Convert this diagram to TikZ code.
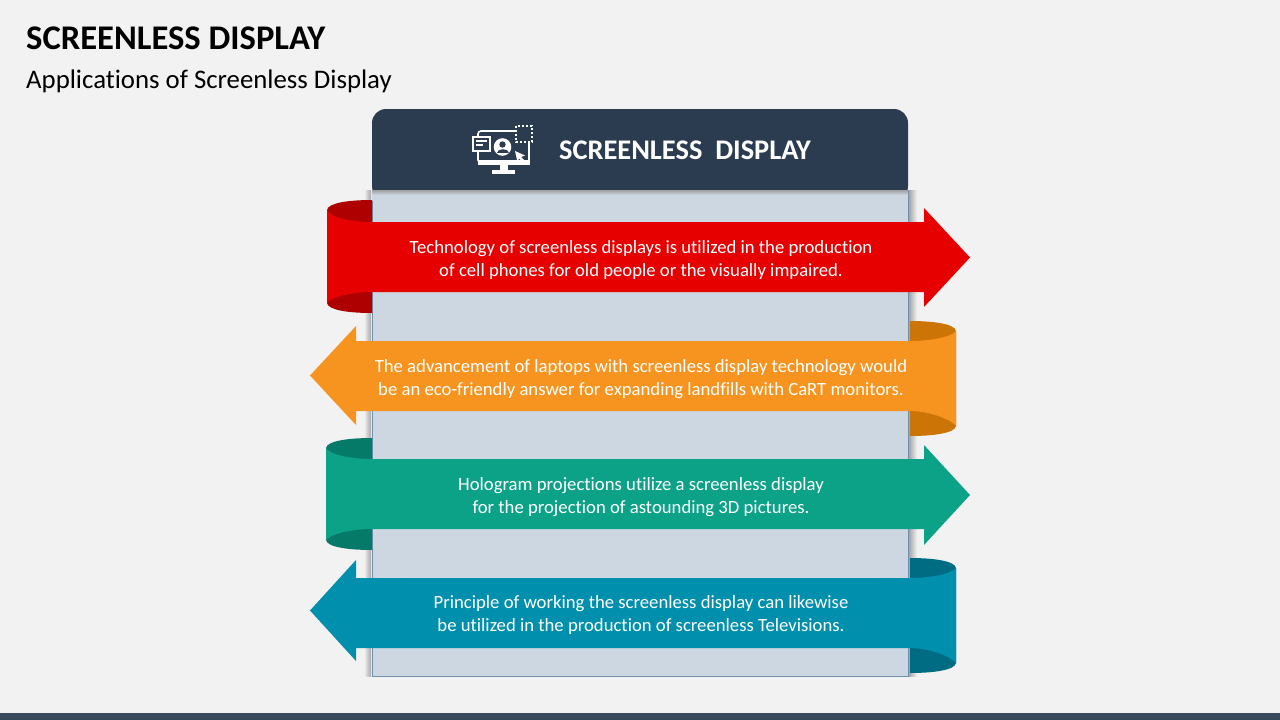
\documentclass[tikz,border=0pt]{standalone}
\usepackage{fontspec}
\setmainfont[Ligatures=NoCommon]{Carlito}
\usetikzlibrary{calc}

\tikzset{
    ribbonText/.style={text=white, align=center, font=\fontsize{18.7}{23}\selectfont, inner sep=0pt},
    titleText/.style={text=black, anchor=west, inner sep=0pt},
    iconLine/.style={draw=white, line width=1.6pt},
}

\begin{document}
\begin{tikzpicture}[x=1pt, y=-1pt]
    % Define colors
    \definecolor{pageColour}{HTML}{F2F2F2}
    \definecolor{headColour}{HTML}{2C3C50}
    \definecolor{panelColour}{HTML}{CDD7E2}
    \definecolor{panelEdge}{HTML}{6F8FAF}
    \definecolor{footColour}{HTML}{3A4A5E}
    \definecolor{redFront}{HTML}{E60000}
    \definecolor{redBack}{HTML}{AE0000}
    \definecolor{orangeFront}{HTML}{F79420}
    \definecolor{orangeBack}{HTML}{CC7405}
    \definecolor{tealFront}{HTML}{0BA288}
    \definecolor{tealBack}{HTML}{067A68}
    \definecolor{blueFront}{HTML}{0090AE}
    \definecolor{blueBack}{HTML}{006C84}

    % Page and footer
    \fill[pageColour] (0,0) rectangle (1280,720);
    \useasboundingbox (0,0) rectangle (1280,720);
    \fill[footColour] (0,713) rectangle (1280,720);

    % Titles
    \node[titleText, font=\fontsize{34.6}{34.6}\selectfont\bfseries] (title) at (26,38) {SCREENLESS DISPLAY};
    \node[titleText, font=\fontsize{26.8}{26.8}\selectfont] (subtitle) at (26,81) {Applications of Screenless Display};

    % Side shadows of the panel
    \shade[left color=pageColour, right color=gray!70] (364,190) rectangle (371,676);
    \shade[left color=gray!70, right color=pageColour] (909,190) rectangle (917,676);

    % Panel and header
    \filldraw[fill=panelColour, draw=panelEdge, line width=0.8pt] (372,190) rectangle (908,676);
    \fill[headColour, rounded corners=14pt] (372,200) -- (372,109) -- (908,109) -- (908,200) -- cycle;
    \fill[panelColour] (372,190.5) rectangle (908,201);
    \shade[top color=gray!75, bottom color=panelColour] (372,190) rectangle (908,195);
    \node[text=white, inner sep=0pt, font=\fontsize{28.4}{28.4}\selectfont\bfseries] (header) at (685,150.5) {SCREENLESS~ DISPLAY};

    % Draw the icon
    \draw[iconLine, rounded corners=3pt] (516,131) -- (478,131) -- (478,163) -- (529,163) -- (529,142);
    \fill[white] (478,160) rectangle (530,165);
    \fill[white] (500,165) rectangle (508,171);
    \fill[white] (492,170) rectangle (515,173.5);
    \draw[white, line width=2pt, dotted] (516,126) rectangle (532,142);
    \filldraw[fill=headColour, draw=white, line width=1.6pt] (473,137) rectangle (490,151);
    \draw[white, line width=1.3pt] (476,141) -- (487,141) (476,145) -- (483,145);
    \fill[white] (502.5,147) circle (8.8);
    \fill[headColour] (502.5,144.5) circle (3.2);
    \fill[headColour] (496.5,153) .. controls (496.5,147.5) and (508.5,147.5) .. (508.5,153) -- cycle;
    \fill[white] (515,151) -- (525,155.5) -- (521,157) -- (525,161) -- (523,162.5) -- (519,158.5) -- (517.5,162) -- cycle;

    % Draw the ribbons, xscale flips the left pointing ones
    \foreach \dir/\bodyTop/\curlTop/\curlLow/\curlX/\curlIn/\headTop/\headLow/\front/\back in {
        1/222/200/313/-313/-268/208/307/redFront/redBack,
        -1/341/321/436/-316/-270/326/425/orangeFront/orangeBack,
        1/459/438/550/-314/-268/445/545/tealFront/tealBack,
        -1/578/558/673/-316/-270/560/661/blueFront/blueBack}
    {
        \begin{scope}[xshift=640pt, xscale=\dir]
            % Back of the curl
            \fill[\back] (\curlIn,\curlTop) .. controls (\curlIn-24,\curlTop) and (\curlX+1,\curlTop+3) .. (\curlX,\curlTop+10)
                -- (\curlX,\curlLow-10) .. controls (\curlX+1,\curlLow-3) and (\curlIn-24,\curlLow) .. (\curlIn,\curlLow) -- cycle;
            % Front of the ribbon with its arrow head
            \fill[\front] (\curlX,\curlTop+10) .. controls (\curlX+4,\bodyTop-4) and (\curlIn-20,\bodyTop) .. (\curlIn,\bodyTop)
                -- (284,\bodyTop) -- (284,\headTop) -- (330,{(\headTop+\headLow)/2}) -- (284,\headLow)
                -- (284,\bodyTop+70) -- (\curlIn,\bodyTop+70)
                .. controls (\curlIn-20,\bodyTop+70) and (\curlX+4,\curlLow-16) .. (\curlX,\curlLow-10) -- cycle;
        \end{scope}
    }

    % Label the ribbons
    \node[ribbonText] (textRed) at (641,260) {Technology of screenless displays is utilized in the production\\of cell phones for old people or the visually impaired.};
    \node[ribbonText] (textOrange) at (641,379) {The advancement of laptops with screenless display technology would\\be an eco-friendly answer for expanding landfills with CaRT monitors.};
    \node[ribbonText] (textTeal) at (641,497) {Hologram projections utilize a screenless display\\for the projection of astounding 3D pictures.};
    \node[ribbonText] (textBlue) at (641,615) {Principle of working the screenless display can likewise\\be utilized in the production of screenless Televisions.};

\end{tikzpicture}
\end{document}
